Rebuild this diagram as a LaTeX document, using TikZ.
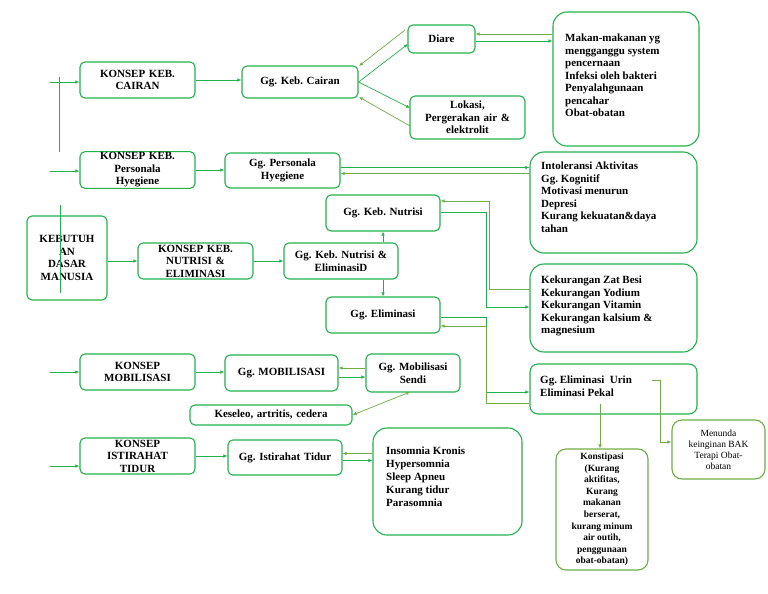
\documentclass[tikz,border=0pt]{standalone}
\usepackage{fontspec}
\setmainfont{Liberation Serif}
\usetikzlibrary{arrows.meta}
\definecolor{gb}{RGB}{34,177,76}
\definecolor{ol}{RGB}{112,173,71}
\frenchspacing
\hyphenpenalty=10000
\begin{document}
\begin{tikzpicture}[x=1pt,y=-1pt,
 bx/.style={draw=gb,line width=1.1pt,rounded corners=5pt,align=center,font=\fontsize{11}{12.5}\selectfont\bfseries,inner sep=1pt},
 ar/.style={-{Latex[length=4pt,width=3.5pt]},draw=gb,line width=0.7pt},
 ao/.style={-{Latex[length=4pt,width=3.5pt]},draw=ol,line width=0.7pt},
 ln/.style={draw=gb,line width=0.7pt}]
\useasboundingbox (0,0) rectangle (768,594);
\newcommand{\bxat}[6]{\node[bx,minimum width=#4-#2,minimum height=#5-#3,text width=#4-#2-4] (#1) at ({(#2+#4)/2},{(#3+#5)/2}) {#6};}
\bxat{kc}{80}{62}{195}{98}{KONSEP KEB.\\CAIRAN}
\bxat{gc}{242}{66}{358}{98}{Gg. Keb. Cairan}
\bxat{di}{408}{25}{475}{53}{Diare}
\bxat{lo}{410}{96}{525}{139}{Lokasi,\\Pergerakan air \&\\elektrolit}
\node[bx,minimum width=146,minimum height=134,rounded corners=14pt] (mk) at (626,79) {};
\node[font=\fontsize{11}{12.5}\selectfont\bfseries,align=left,anchor=north west,inner sep=0pt] (mkt) at (565,34) {Makan-makanan yg\\mengganggu system\\pencernaan\\Infeksi oleh bakteri\\Penyalahgunaan\\pencahar\\Obat-obatan};
\bxat{kp}{80}{152}{195}{188}{KONSEP KEB.\\Personala\\Hyegiene}
\bxat{gp}{225}{153}{340}{188}{Gg. Personala\\Hyegiene}
\node[bx,minimum width=167,minimum height=101,rounded corners=14pt] (in) at (613.5,202.5) {};
\node[font=\fontsize{11}{12.5}\selectfont\bfseries,align=left,anchor=north west,inner sep=0pt] at (541,162) {Intoleransi Aktivitas\\Gg. Kognitif\\Motivasi menurun\\Depresi\\Kurang kekuatan\&daya\\tahan};
\bxat{gn}{326}{195}{440}{231}{Gg. Keb. Nutrisi}
\bxat{kb}{27}{216}{107}{300}{KEBUTUH\\AN\\DASAR\\MANUSIA}
\bxat{kn}{138}{243}{253}{279}{KONSEP KEB.\\NUTRISI \&\\ELIMINASI}
\bxat{ge}{284}{243}{398}{279}{Gg. Keb. Nutrisi \&\\EliminasiD}
\bxat{el}{326}{297}{440}{333}{Gg. Eliminasi}
\node[bx,minimum width=167,minimum height=88,rounded corners=14pt] (kk) at (613.5,308) {};
\node[font=\fontsize{11}{12.5}\selectfont\bfseries,align=left,anchor=north west,inner sep=0pt] at (541,276) {Kekurangan Zat Besi\\Kekurangan Yodium\\Kekurangan Vitamin\\Kekurangan kalsium \&\\magnesium};
\bxat{km}{80}{354}{195}{390}{KONSEP\\MOBILISASI}
\bxat{gm}{225}{355}{338}{391}{Gg. MOBILISASI}
\bxat{ms}{366}{354}{460}{392}{Gg. Mobilisasi\\Sendi}
\bxat{ks}{190}{405}{352}{425}{Keseleo, artritis, cedera}
\node[bx,minimum width=167,minimum height=50,rounded corners=8pt] (ur) at (613.5,389) {};
\node[font=\fontsize{11}{12.5}\selectfont\bfseries,align=left,anchor=north west,inner sep=0pt] at (540,376) {Gg. Eliminasi\ \ Urin\\Eliminasi Pekal};
\bxat{ki}{80}{438}{195}{474}{KONSEP\\ISTIRAHAT\\TIDUR}
\bxat{gi}{228}{440}{342}{475}{Gg. Istirahat Tidur}
\node[bx,minimum width=149,minimum height=107,rounded corners=14pt] (is) at (447.5,481.5) {};
\node[font=\fontsize{11}{12.8}\selectfont\bfseries,align=left,anchor=north west,inner sep=0pt] at (386,447) {Insomnia Kronis\\Hypersomnia\\Sleep Apneu\\Kurang tidur\\Parasomnia};
\node[bx,draw=ol,minimum width=92,minimum height=121,rounded corners=10pt,font=\fontsize{9.5}{11.6}\selectfont\bfseries] (kt) at (602,509.5) {Konstipasi\\(Kurang\\aktifitas,\\Kurang\\makanan\\berserat,\\kurang minum\\air outih,\\penggunaan\\obat-obatan)};
\node[bx,draw=ol,minimum width=93,minimum height=59,rounded corners=10pt,font=\fontsize{9.5}{11}\selectfont] (mn) at (718.5,449.5) {Menunda\\keinginan BAK\\Terapi Obat-\\obatan};
% left trunk
\coordinate (t1) at (59,77); \coordinate (t2) at (59,152);
\draw[ln] (t1) -- (t2);
\coordinate (t3) at (60,205); \coordinate (t4) at (60,293);
\draw[ln] (t3) -- (t4);
\coordinate (s1) at (50,82); \coordinate (s2) at (50,171); \coordinate (s3) at (50,372); \coordinate (s4) at (50,466);
\draw[ar] (s1) -- (s1 -| kc.west);
\draw[ar] (s2) -- (s2 -| kp.west);
\draw[ar] (s3) -- (s3 -| km.west);
\draw[ar] (s4) -- (s4 -| ki.west);
\draw[ar] (kb.east |- kn) -- (kn.west);
% cairan
\draw[ar] (kc.east) -- (kc.east -| gc.west);
\coordinate (d1) at (408,44); \coordinate (d2) at (405,30);
\coordinate (c1) at (359,66); \coordinate (c2) at (359,97);
\coordinate (l1) at (410,108); \coordinate (l2) at (410,126);
\draw[ar] (gc.east) -- (d1);
\draw[ao] (d2) -- (c1);
\draw[ar] (gc.east) -- (l1);
\draw[ao] (l2) -- (c2);
\draw[ar] ([yshift=-2]di.east) -- ([yshift=-2]di.east -| mk.west);
\draw[ao] ([yshift=5]di.east -| mk.west) -- ([yshift=5]di.east);
% personal
\draw[ar] (kp.east) -- (kp.east -| gp.west);
\draw[ao] ([yshift=-3]gp.east -| in.west) -- ([yshift=-3]gp.east);
\draw[ar] ([yshift=3]gp.east) -- ([yshift=3]gp.east -| in.west);
% nutrisi
\draw[ar] (kn.east) -- (kn.east -| ge.west);
\draw[ar] (ge.north -| gn) -- (gn.south);
\draw[ar] (ge.south -| el) -- (el.north);
\coordinate (n1) at (486,212); \coordinate (n2) at (486,307);
\draw[ar] (n1 -| gn.east) -- (n1) -- (n2) -- (n2 -| kk.west);
\coordinate (n3) at (489,289); \coordinate (n4) at (489,201);
\draw[ao] (n3 -| kk.west) -- (n3) -- (n4) -- (n4 -| gn.east);
\coordinate (e1) at (486,317); \coordinate (e2) at (486,392);
\draw[ar] (e1 -| el.east) -- (e1) -- (e2) -- (e2 -| ur.west);
\coordinate (e3) at (486,403); \coordinate (e4) at (486,326);
\draw[ao] (e3 -| ur.west) -- (e3) -- (e4) -- (e4 -| el.east);
\coordinate (u1) at (600,404);
\draw[ao] (u1) -- (u1 |- kt.north);
\coordinate (u2) at (652,380); \coordinate (u3) at (660,380); \coordinate (u4) at (660,442);
\draw[ao] (u2) -- (u3) -- (u4) -- (u4 -| mn.west);
% mobilisasi
\draw[ar] (km.east) -- (km.east -| gm.west);
\draw[ar] ([yshift=-4]gm.east) -- ([yshift=-4]gm.east -| ms.west);
\draw[ao] ([yshift=5]gm.east -| ms.west) -- ([yshift=5]gm.east);
\coordinate (m1) at (410,392);
\draw[{Latex[length=4pt,width=3.5pt]}-{Latex[length=4pt,width=3.5pt]},draw=ol,line width=0.7pt] (ks.east) -- (m1);
% istirahat
\draw[ar] (ki.east) -- (ki.east -| gi.west);
\draw[ar] ([yshift=-3]gi.east) -- ([yshift=-3]gi.east -| is.west);
\draw[ao] ([yshift=4]gi.east -| is.west) -- ([yshift=4]gi.east);
\end{tikzpicture}
\end{document}
